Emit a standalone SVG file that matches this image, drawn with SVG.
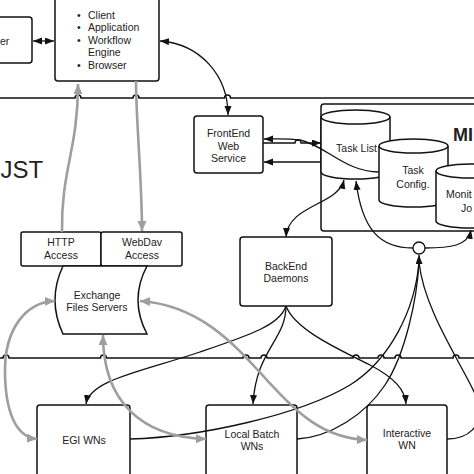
<svg xmlns="http://www.w3.org/2000/svg" width="474" height="474" viewBox="0 0 474 474">
<style>
text{font-family:"Liberation Sans",Arial,sans-serif;font-size:10.5px;fill:#222;text-anchor:middle}
.box{fill:#fff;stroke:#111;stroke-width:1.5}
.sep{fill:none;stroke:#111;stroke-width:1.5}
.c{fill:none;stroke:#111;stroke-width:1.3}
.g{fill:none;stroke:#9e9e9e;stroke-width:2.6}
.big{font-size:24px;text-anchor:start}
.mi{font-size:18px;font-weight:bold;text-anchor:start}
.l{text-anchor:start}
</style>
<defs>
<marker id="a" markerUnits="userSpaceOnUse" markerWidth="10" markerHeight="8" refX="9" refY="3.5" orient="auto-start-reverse"><path d="M0,0 L9,3.5 L0,7 z" fill="#111"/></marker>
<marker id="ag" markerUnits="userSpaceOnUse" markerWidth="12" markerHeight="10" refX="10" refY="4.5" orient="auto-start-reverse"><path d="M0,0 L10,4.5 L0,9 z" fill="#9e9e9e"/></marker>
</defs>
<rect width="474" height="474" fill="#fff"/>

<g id="separators">
<path class="sep" d="M0,98 L75,98 A3,3 0 0 1 81,98 L133,98 A3,3 0 0 1 139,98 L224.5,98 A3,3 0 0 1 230.5,98 L474,98"/>
<path class="sep" d="M0,358 L3,358 A3,3 0 0 1 9,358 L100.5,358 A3,3 0 0 1 106.5,358 L243,358 A3,3 0 0 1 249,358 L261,358 A3,3 0 0 1 267,358 L353,358 A3,3 0 0 1 359,358 L378,358 A3,3 0 0 1 384,358 L395,358 A3,3 0 0 1 401,358 L453,358 A3,3 0 0 1 459,358 L474,358"/>
</g>

<text class="big" x="0.5" y="178">JST</text>

<g id="user">
<rect class="box" x="-10" y="17" width="42" height="46" rx="3"/>
<text class="l" x="0" y="45">er</text>
</g>

<g id="client">
<rect class="box" x="55" y="-3" width="104" height="84" rx="3"/>
<text class="l" x="77" y="19">•</text><text class="l" x="88" y="19">Client</text>
<text class="l" x="77" y="31">•</text><text class="l" x="88" y="31">Application</text>
<text class="l" x="77" y="44">•</text><text class="l" x="88" y="44">Workflow</text>
<text class="l" x="88" y="56">Engine</text>
<text class="l" x="77" y="69">•</text><text class="l" x="88" y="69">Browser</text>
</g>

<g id="frontend">
<rect class="box" x="194" y="116" width="69" height="57" rx="3"/>
<text x="228.5" y="137">FrontEnd</text>
<text x="228.5" y="150">Web</text>
<text x="228.5" y="162">Service</text>
</g>

<g id="mi">
<rect class="box" x="321" y="104" width="170" height="127" rx="3"/>
<text class="mi" x="453" y="141">MI</text>
</g>

<g id="tasklist">
<path class="box" d="M321,117 L321,172 A34.5,7 0 0 0 390,172 L390,117"/>
<ellipse class="box" cx="355.5" cy="117" rx="34.5" ry="7"/>
<text x="356.5" y="152">Task List</text>
</g>

<g id="taskconfig">
<path class="box" d="M379,146 L379,200 A34.5,7 0 0 0 448,200 L448,146"/>
<ellipse class="box" cx="413.5" cy="146" rx="34.5" ry="7"/>
<text x="413" y="174">Task</text>
<text x="413" y="188">Config.</text>
</g>

<g id="monitor">
<path class="box" d="M436,171 L436,221 A34.5,7 0 0 0 505,221 L505,171"/>
<ellipse class="box" cx="470.5" cy="171" rx="34.5" ry="7"/>
<text class="l" x="446" y="198">Monit</text>
<text class="l" x="461" y="212">Jo</text>
</g>

<g id="backend">
<rect class="box" x="240" y="237" width="92" height="69" rx="3"/>
<text x="286" y="270">BackEnd</text>
<text x="286" y="282">Daemons</text>
</g>

<g id="http">
<rect class="box" x="21" y="232" width="80" height="34" rx="2"/>
<text x="61" y="246">HTTP</text>
<text x="61" y="259">Access</text>
</g>

<g id="webdav">
<rect class="box" x="101" y="232" width="81" height="34" rx="2"/>
<text x="142" y="246">WebDav</text>
<text x="142" y="259">Access</text>
</g>

<g id="exchange">
<path class="box" d="M63,266 L147,266 Q129,300 147,334 L63,334 Q47,300 63,266 Z"/>
<text x="97" y="299">Exchange</text>
<text x="97" y="311">Files Servers</text>
</g>

<g id="egi">
<rect class="box" x="37" y="405" width="93" height="80" rx="3"/>
<text x="84" y="444">EGI WNs</text>
</g>

<g id="localbatch">
<rect class="box" x="206" y="405" width="91" height="80" rx="3"/>
<text x="252" y="438">Local Batch</text>
<text x="252" y="450">WNs</text>
</g>

<g id="interactive">
<rect class="box" x="367" y="405" width="80" height="80" rx="3"/>
<text x="407" y="437">Interactive</text>
<text x="407" y="449">WN</text>
</g>

<g id="connectors">
<path class="c" d="M33,41 L54,41" marker-start="url(#a)" marker-end="url(#a)"/>
<path class="c" d="M160,41 C200,44 228,75 228,115" marker-start="url(#a)" marker-end="url(#a)"/>
<path class="g" d="M62,232 C61,170 78,150 78,84" marker-end="url(#ag)"/>
<path class="g" d="M136,81 C136,120 142,180 142,231" marker-end="url(#ag)"/>
<path class="c" d="M379,172 C345,172 325,145 300,140 C285,138 275,139 264,139" marker-end="url(#a)"/>
<path class="c" d="M263,143 L295,143 A3,3 0 0 1 301,143 L321,143" marker-end="url(#a)"/>
<path class="c" d="M321,162 L264,162" marker-end="url(#a)"/>
<path class="c" d="M286,237 C288,205 338,205 344,180" marker-start="url(#a)" marker-end="url(#a)"/>
<path class="c" d="M413,248 C380,248 362,230 356,181" marker-end="url(#a)"/>
<path class="c" d="M425,248 C450,248 468,246 471,230" marker-end="url(#a)"/>
<path class="c" d="M286,306 C280,325 250,335 200,352 C140,372 90,380 86,404" marker-end="url(#a)"/>
<path class="c" d="M286,306 C286,340 256,350 253,404" marker-end="url(#a)"/>
<path class="c" d="M286,306 C295,330 340,350 370,365 C395,378 405,390 406,404" marker-end="url(#a)"/>
<path class="c" d="M130,439 C200,437 300,415 350,385 C390,360 415,310 419,262"/>
<path class="c" d="M297,439 C330,437 365,415 385,385 C405,355 417,300 419,262"/>
<path class="c" d="M447,439 C470,439 480,425 480,410 C478,385 425,320 419,262"/>
<path class="c" d="M419,263 L419,255" marker-end="url(#a)"/>
<circle cx="419" cy="248" r="6" fill="#fff" stroke="#111" stroke-width="1.3"/>
<path class="g" d="M55,301 C25,302 5,330 5,370 C5,410 15,437 37,439" marker-start="url(#ag)" marker-end="url(#ag)"/>
<path class="g" d="M103,335 C103,400 140,437 206,439" marker-start="url(#ag)" marker-end="url(#ag)"/>
<path class="g" d="M140,301 C200,305 235,345 265,378 C295,410 320,438 367,440" marker-start="url(#ag)" marker-end="url(#ag)"/>
</g>
</svg>
